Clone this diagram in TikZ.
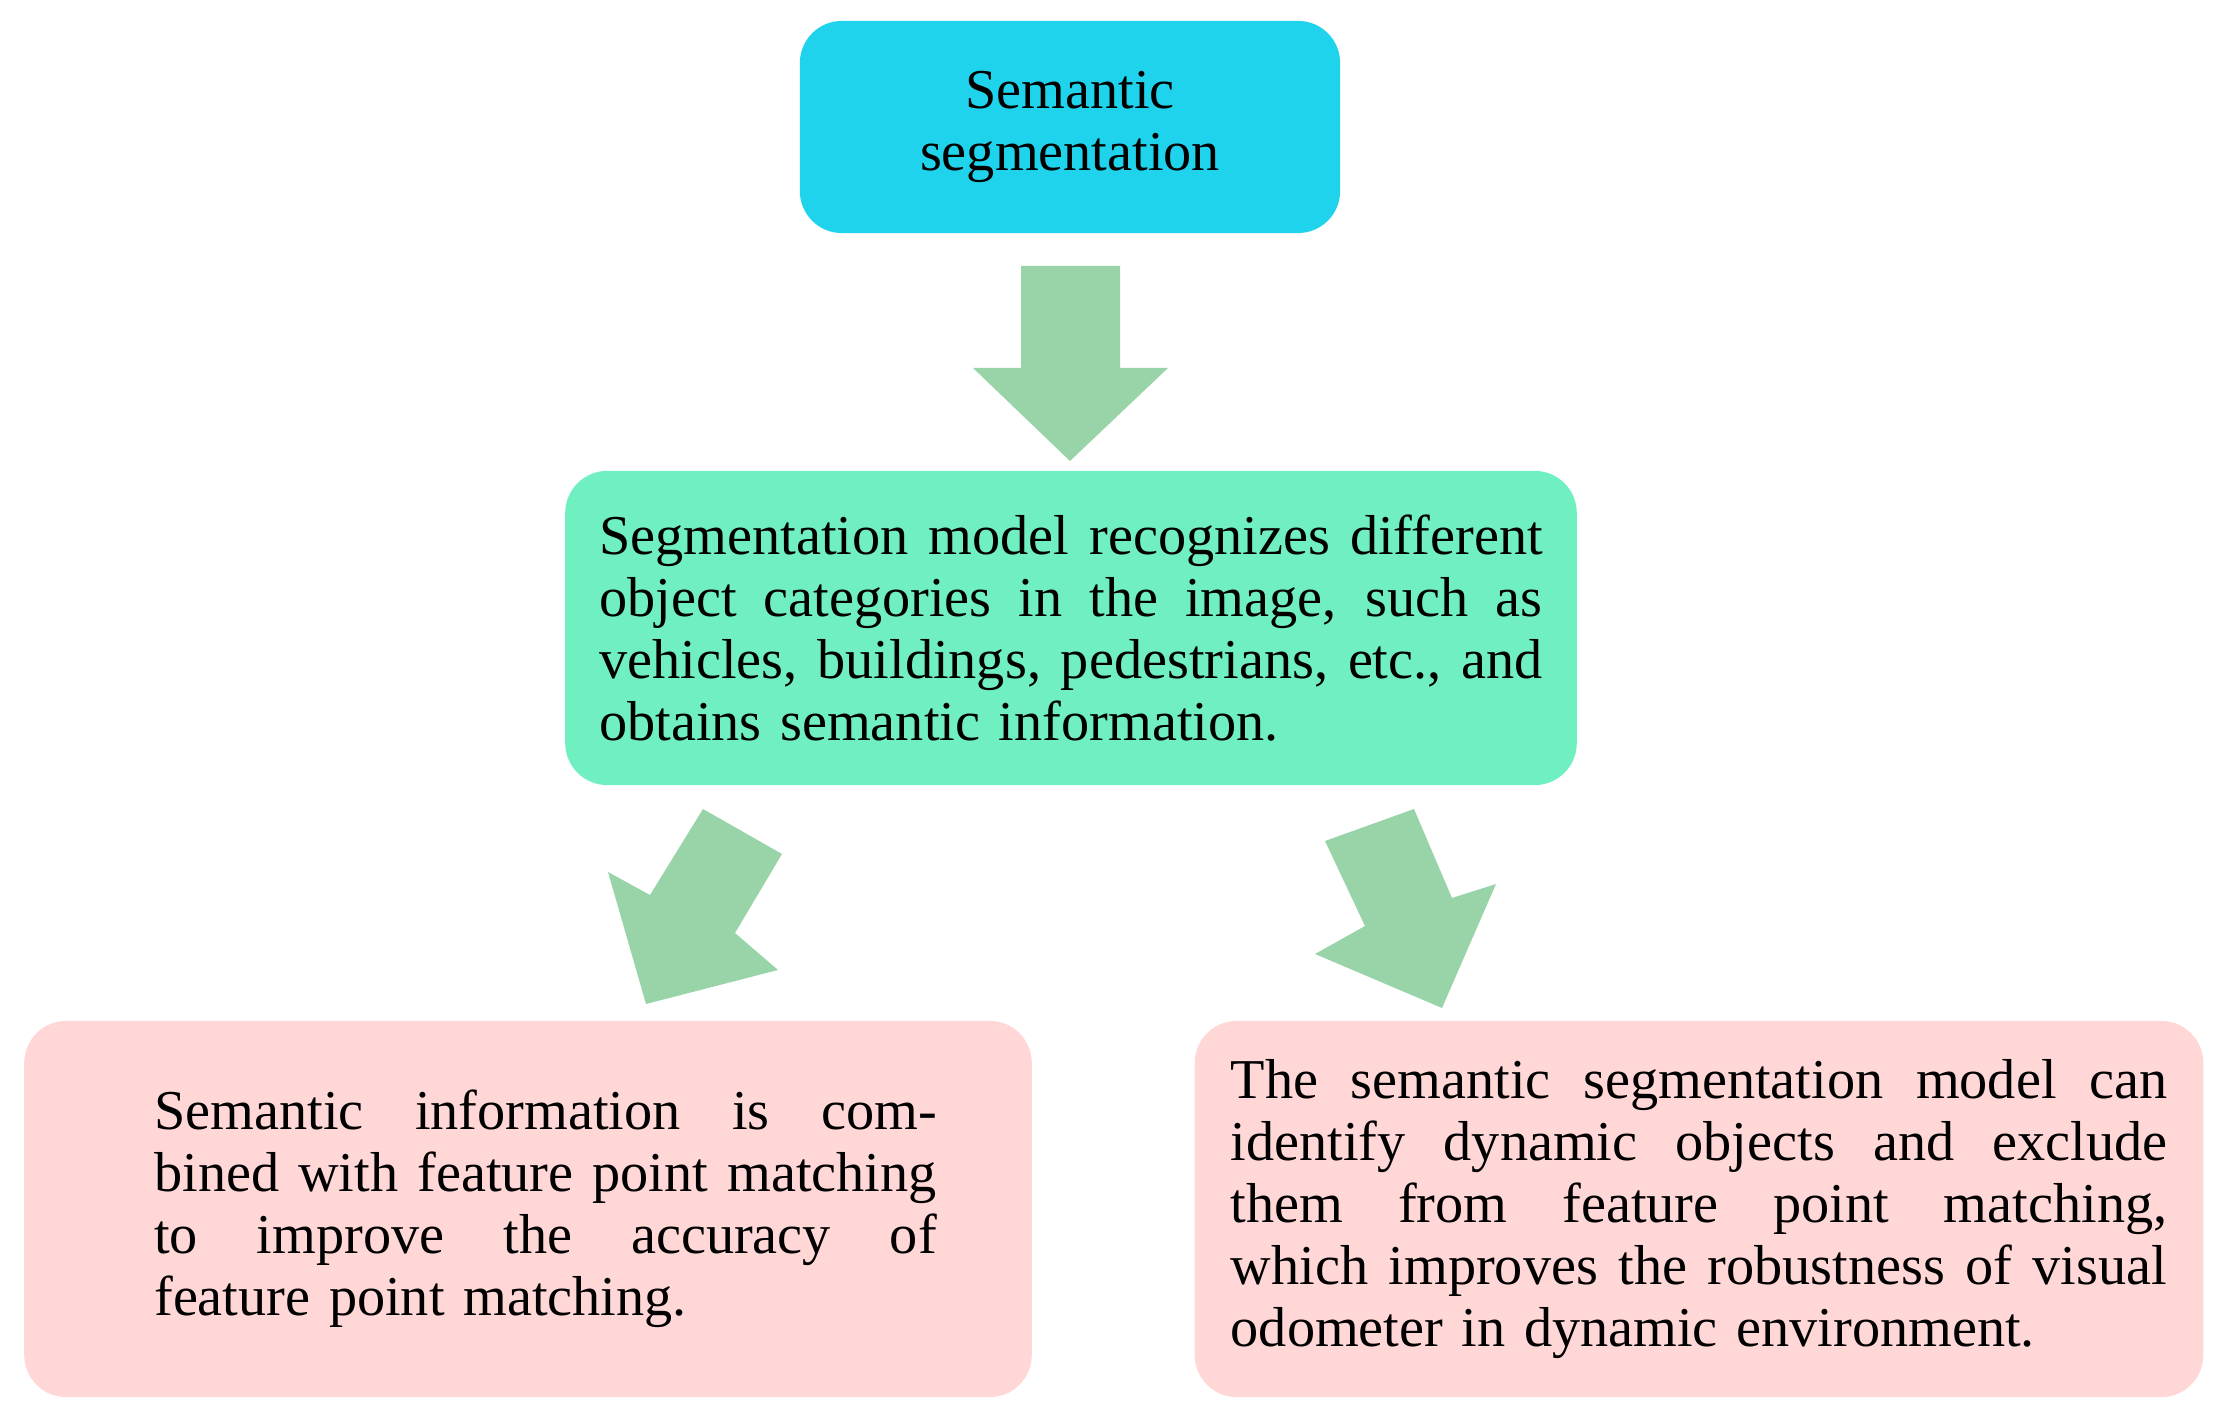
\documentclass[tikz,border=0pt]{standalone}
\usepackage{fontspec}
\setmainfont{Liberation Serif}
\definecolor{topc}{HTML}{20D3EC}
\definecolor{midc}{HTML}{70EFC0}
\definecolor{botc}{HTML}{FFD7D7}
\definecolor{arrc}{HTML}{99D3A8}
\begin{document}
\begin{tikzpicture}[x=0.01cm,y=-0.01cm,
 box/.style={draw=none,rounded corners=0.42cm,inner sep=0pt,font=\fontsize{16}{17.6}\selectfont},
 arr/.style={fill=arrc,draw=none}]
\useasboundingbox (0,0) rectangle (2217,1425);
\node[box,fill=topc,minimum width=5.4cm,minimum height=2.12cm,align=center] (top) at (1070,127) {Semantic\\segmentation};
\node[box,fill=midc,minimum width=10.11cm,minimum height=3.14cm] (mid) at (1071,628) {\parbox{9.43cm}{\fontsize{16}{17.6}\selectfont\spaceskip=0.33em plus 1em\relax Segmentation model recognizes different object categories in the image, such as vehicles, buildings, pedestrians, etc., and obtains semantic information.}};
\node[box,fill=botc,minimum width=10.07cm,minimum height=3.76cm] (left) at (528,1209) {\hspace*{1.3cm}\parbox{7.82cm}{\fontsize{16}{17.6}\selectfont\spaceskip=0.33em plus 1em\relax Semantic information is combined with feature point matching to improve the accuracy of feature point matching.}\hspace*{0.95cm}};
\node[box,fill=botc,minimum width=10.08cm,minimum height=3.76cm] (right) at (1699,1209) {\parbox{9.36cm}{\fontsize{16}{17.6}\selectfont\spaceskip=0.33em plus 1em\relax The semantic segmentation model can identify dynamic objects and exclude them from feature point matching, which improves the robustness of visual odometer in dynamic environment.}};
\fill[arr] (1021,266) -- (1120,266) -- (1120,368) -- (1168,368) -- (1070,461) -- (973,368) -- (1021,368) -- cycle;
\fill[arr] (703,809) -- (782,854) -- (735,933) -- (778,970) -- (646,1004) -- (608,872) -- (650,895) -- cycle;
\fill[arr] (1325,841) -- (1414,809) -- (1452,898) -- (1496,884) -- (1442,1008) -- (1315,954) -- (1365,926) -- cycle;
\end{tikzpicture}
\end{document}
